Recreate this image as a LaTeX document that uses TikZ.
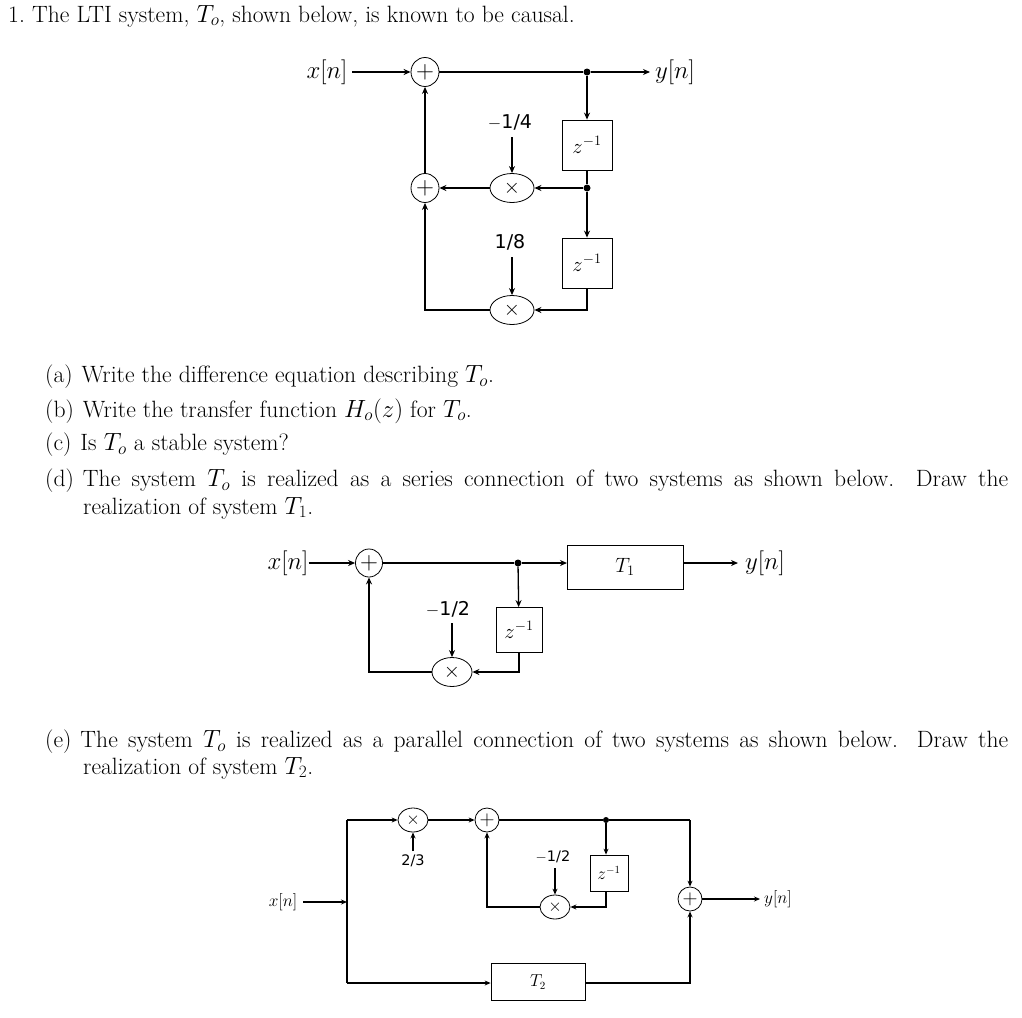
\documentclass[tikz,border=0pt]{standalone}
\usepackage{fontspec}
\newfontfamily\numf{DejaVu Sans}
\usetikzlibrary{arrows.meta,shapes.geometric}
\begin{document}
\begin{tikzpicture}[x=1pt,y=-1pt,
  ln/.style={line width=1.3pt},
  ar/.style={line width=1.3pt,-{Stealth[length=7pt,width=6pt]}},
  sumn/.style={draw,ellipse,line width=0.8pt,minimum width=28pt,minimum height=29pt,inner sep=0pt,font=\fontsize{28}{28}\selectfont},
  muln/.style={draw,ellipse,line width=0.8pt,minimum width=44pt,minimum height=29pt,inner sep=0pt,font=\fontsize{22}{22}\selectfont},
  boxn/.style={draw,line width=0.8pt,inner sep=0pt,font=\fontsize{22}{22}\selectfont},
  dotn/.style={circle,fill,inner sep=0pt,minimum size=7pt},
  txt/.style={anchor=west,inner sep=0pt,font=\fontsize{23.6}{27}\selectfont},
  lbl/.style={inner sep=0pt,font=\fontsize{25}{25}\selectfont},
  num/.style={inner sep=0pt,font=\numf\fontsize{19}{19}\selectfont}]
\useasboundingbox (0,0) rectangle (1022,1017);
% texts
\node[txt] (t1) at (8,16) {1.\ The LTI system, $T_o$, shown below, is known to be causal.};
\node[txt] (ta) at (45,377) {(a)\hspace{9pt}Write the difference equation describing $T_o$.};
\node[txt] (tb) at (45,411) {(b)\hspace{9pt}Write the transfer function $H_o(z)$ for $T_o$.};
\node[txt] (tc) at (45,445) {(c)\hspace{9pt}Is $T_o$ a stable system?};
\node[txt] (td) at (45,481) {\makebox[963pt][s]{(d)\hspace{9pt}The system $T_o$ is realized as a series connection of two systems as shown below. Draw the}};
\node[txt] (td2) at (83,508) {realization of system $T_1$.};
\node[txt] (te) at (45,742) {\makebox[963pt][s]{(e)\hspace{9pt}The system $T_o$ is realized as a parallel connection of two systems as shown below. Draw the}};
\node[txt] (te2) at (83,768) {realization of system $T_2$.};
% diagram 1
\node[lbl] (x1) at (327,72) {$x[n]$};
\node[sumn] (s1) at (425,72) {$+$};
\node[sumn] (s2) at (425,188) {$+$};
\node[dotn] (d1) at (587,72) {};
\node[dotn] (d2) at (587,188) {};
\node[lbl] (y1) at (675,72) {$y[n]$};
\node[boxn,minimum width=50pt,minimum height=50pt] (z1) at (587,145) {$z^{-1}$};
\node[boxn,minimum width=50pt,minimum height=50pt] (z2) at (587,263) {$z^{-1}$};
\node[muln] (m1) at (512,188) {$\times$};
\node[muln] (m2) at (512,310) {$\times$};
\node[num] (c1) at (510,122) {$-$1/4};
\node[num] (c2) at (510,242) {1/8};
\coordinate (c1a) at (512,137);
\coordinate (c2a) at (512,257);
\draw[ar] (352,72) -- (s1);
\draw[ln] (s1) -- (d1);
\draw[ar] (d1) -- (650,72);
\draw[ar] (d1) -- (z1);
\draw[ln] (z1) -- (d2);
\draw[ar] (d2) -- (z2);
\draw[ar] (d2) -- (m1);
\draw[ar] (m1) -- (s2);
\draw[ar] (s2) -- (s1);
\draw[ar] (z2.south) |- (m2.east);
\draw[ar] (m2.west) -| (s2.south);
\draw[ar] (c1a) -- (m1);
\draw[ar] (c2a) -- (m2);
% diagram 2
\node[lbl] (x2) at (288,563) {$x[n]$};
\node[sumn,minimum width=27pt,minimum height=28pt] (s3) at (369,563) {$+$};
\node[dotn] (d3) at (518,563) {};
\node[boxn,minimum width=116pt,minimum height=44pt,font=\fontsize{20}{20}\selectfont] (T1) at (625,567) {$T_1$};
\node[lbl] (y2) at (765,563) {$y[n]$};
\node[boxn,minimum width=46pt,minimum height=45pt,font=\fontsize{20}{20}\selectfont] (z3) at (519,630) {$z^{-1}$};
\node[muln,minimum width=40pt] (m3) at (452,672) {$\times$};
\node[num] (c3) at (448,609) {$-$1/2};
\coordinate (c3a) at (452,623);
\coordinate (y2a) at (738,563);
\draw[ar] (x2.east) -- (s3);
\draw[ln] (s3) -- (d3);
\draw[ar] (d3) -- (567,563);
\draw[ar] (683,563) -- (y2a);
\draw[ar] (d3) -- (z3);
\draw[ar] (z3.south) |- (m3.east);
\draw[ar] (m3.west) -| (s3.south);
\draw[ar] (c3a) -- (m3);
% diagram 3
\tikzset{ar3/.style={line width=1.1pt,-{Stealth[length=6pt,width=5pt]}}}
\node[lbl,font=\fontsize{17}{17}\selectfont] (x3) at (283,902) {$x[n]$};
\coordinate (j) at (347,902);
\coordinate (jt) at (347,820);
\coordinate (jb) at (347,983);
\node[muln,minimum width=30pt,minimum height=24pt,font=\fontsize{18}{18}\selectfont] (m4) at (413,820) {$\times$};
\node[sumn,minimum width=24pt,minimum height=24pt,font=\fontsize{22}{22}\selectfont] (s4) at (487,820) {$+$};
\node[dotn,minimum size=6pt] (d4) at (606,820) {};
\coordinate (r) at (690,820);
\node[sumn,minimum width=24pt,minimum height=24pt,font=\fontsize{22}{22}\selectfont] (s5) at (690,899) {$+$};
\node[lbl,font=\fontsize{17}{17}\selectfont] (y3) at (778,899) {$y[n]$};
\node[boxn,minimum width=38pt,minimum height=36pt,font=\fontsize{16}{16}\selectfont] (z4) at (609,873) {$z^{-1}$};
\node[muln,minimum width=30pt,minimum height=24pt,font=\fontsize{18}{18}\selectfont] (m5) at (555,907) {$\times$};
\node[num,font=\numf\fontsize{14.5}{14.5}\selectfont] (c4) at (553,857) {$-$1/2};
\node[num,font=\numf\fontsize{14.5}{14.5}\selectfont] (c5) at (413,861) {2/3};
\coordinate (c4a) at (555,868);
\coordinate (c5a) at (413,851);
\node[boxn,minimum width=94pt,minimum height=37pt,font=\fontsize{16}{16}\selectfont] (T2) at (538,982) {$T_2$};
\draw[ar3] (303,902) -- (j);
\draw[line width=1.1pt] (jt) -- (jb);
\draw[ar3] (jt) -- (m4);
\draw[ar3] (m4) -- (s4);
\draw[line width=1.1pt] (s4) -- (d4) -- (r);
\draw[ar3] (r) -- (s5);
\draw[ar3] (d4) -- (d4 |- z4.north);
\draw[ar3] (z4.south -| d4) |- (m5.east);
\draw[ar3] (m5.west) -| (s4.south);
\draw[ar3] (c4a) -- (m5);
\draw[ar3] (c5a) -- (m4);
\draw[ar3] (s5) -- (760,899);
\draw[ar3] (jb) -- (T2.west |- jb);
\draw[ar3] (T2.east |- jb) -| (s5.south);
\end{tikzpicture}
\end{document}
